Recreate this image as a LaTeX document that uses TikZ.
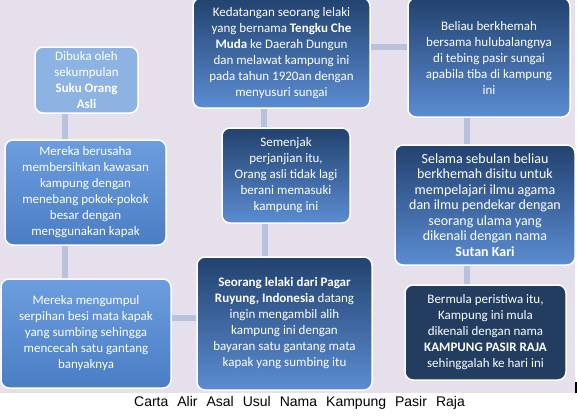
\documentclass[tikz,border=0pt]{standalone}
\usepackage{fontspec}
\setmainfont{Carlito}
\newfontfamily\captionfont{Liberation Sans}
\usetikzlibrary{positioning}

\definecolor{bgcol}{HTML}{E6E0EC}
\definecolor{linkcol}{HTML}{B7C3DD}
\definecolor{paleblue}{HTML}{8DB3E2}
\definecolor{midtop}{HTML}{6C9DDE}
\definecolor{midbot}{HTML}{4A7DC4}
\definecolor{darktop}{HTML}{22426F}
\definecolor{darkbot}{HTML}{5B8CD2}
\definecolor{navy}{HTML}{223D5F}

\begin{document}
\begin{tikzpicture}[x=1pt, y=-1pt,
  every node/.style={font=\fontsize{13}{16}\selectfont, text=white, align=center},
  box/.style={draw=white, line width=1.5pt, rounded corners=8pt, inner sep=2pt},
  pale/.style={box, fill=paleblue},
  mid/.style={box, top color=midtop, bottom color=midbot},
  dark/.style={box, top color=darktop, bottom color=darkbot},
  link/.style={draw=linkcol, line width=6pt}]

% Background
\fill[white] (0,0) rectangle (577,416);
\fill[bgcol] (0,0) rectangle (575,393);
\fill[black] (575,382) rectangle (577,393);
\useasboundingbox (0,0) rectangle (577,416);

% Nodes
\node (asli) [pale, minimum width=103pt, minimum height=66pt] at (86.5,80)
  {Dibuka oleh\\ sekumpulan\\ \textbf{Suku Orang}\\ \textbf{Asli}};
\node (tebang) [mid, minimum width=161pt, minimum height=105pt] at (85.5,192.5)
  {Mereka berusaha\\ membersihkan kawasan\\ kampung dengan\\ menebang pokok-pokok\\ besar dengan\\ menggunakan kapak};
\node (kumpul) [mid, minimum width=170pt, minimum height=109pt] at (86,333.5)
  {Mereka mengumpul\\ serpihan besi mata kapak\\ yang sumbing sehingga\\ mencecah satu gantang\\ banyaknya};
\node (pagar) [dark, minimum width=175pt, minimum height=133pt] at (284.5,323.5)
  {\textbf{Seorang lelaki dari Pagar}\\ \textbf{Ruyung, Indonesia} datang\\ ingin mengambil alih\\ kampung ini dengan\\ bayaran satu gantang mata\\ kapak yang sumbing itu};
\node (janji) [dark, minimum width=128pt, minimum height=95pt] at (286,175.5)
  {Semenjak\\ perjanjian itu,\\ Orang asli tidak lagi\\ berani memasuki\\ kampung ini};
\node (tengku) [dark, minimum width=177pt, minimum height=110pt] at (281.5,53)
  {Kedatangan seorang lelaki\\ yang bernama \textbf{Tengku Che}\\ \textbf{Muda} ke Daerah Dungun\\ dan melawat kampung ini\\ pada tahun 1920an dengan\\ menyusuri sungai};
\node (khemah) [dark, minimum width=162pt, minimum height=119pt] at (489,57.5)
  {Beliau berkhemah\\ bersama hulubalangnya\\ di tebing pasir sungai\\ apabila tiba di kampung\\ ini};
\node (sutan) [dark, minimum width=180pt, minimum height=120pt, font=\fontsize{14}{15.5}\selectfont] at (485,205)
  {Selama sebulan beliau\\ berkhemah disitu untuk\\ mempelajari ilmu agama\\ dan ilmu pendekar dengan\\ seorang ulama yang\\ dikenali dengan nama\\ \textbf{Sutan Kari}};
\node (raja) [box, fill=navy, minimum width=161pt, minimum height=95pt] at (485.5,332.5)
  {Bermula peristiwa itu,\\ Kampung ini mula\\ dikenali dengan nama\\ \textbf{KAMPUNG PASIR RAJA}\\ sehinggalah ke hari ini};

% Caption
\node (caption) [text=black, font=\captionfont\fontsize{14}{16}\selectfont] at (299.5,403)
  {\spaceskip=9pt Carta Alir Asal Usul Nama Kampung Pasir Raja};

% Links
\draw[link] ([xshift=-21.5pt]asli.south) -- ([xshift=-21.5pt]asli.south |- tebang.north);
\draw[link] ([xshift=-20.5pt]tebang.south) -- ([xshift=-20.5pt]tebang.south |- kumpul.north);
\draw[link] ([yshift=15.5pt]kumpul.east) -- ([yshift=15.5pt]kumpul.east -| pagar.west);
\draw[link] ([xshift=-19.5pt]pagar.north) -- ([xshift=-19.5pt]pagar.north |- janji.south);
\draw[link] ([xshift=-22pt]janji.north) -- ([xshift=-22pt]janji.north |- tengku.south);
\draw[link] ([yshift=6pt]tengku.east) -- ([yshift=6pt]tengku.east -| khemah.west);
\draw[link] ([xshift=-22pt]khemah.south) -- ([xshift=-22pt]khemah.south |- sutan.north);
\draw[link] ([xshift=-18pt]sutan.south) -- ([xshift=-18pt]sutan.south |- raja.north);

\end{tikzpicture}
\end{document}
